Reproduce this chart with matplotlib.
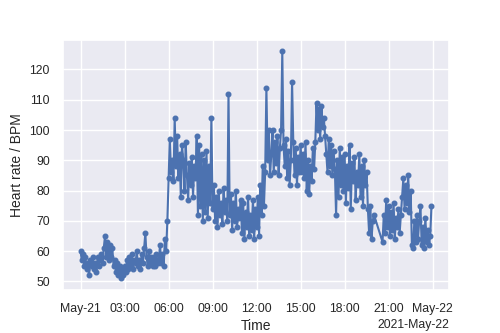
import numpy as np
import pandas as pd
import matplotlib
matplotlib.use("Agg")
import matplotlib.pyplot as plt
import matplotlib.dates as mdates
import seaborn as sns

# --- heart rate readings, 5-minute steps, one list per hour (None = no reading) ---
h00 = [60, 57, 59, 55, 58, 54, 56, 52, 57, 55, 58, 54]
h01 = [56, 53, 58, 55, 57, 59, 56, 61, 65, 58, 63, 57]
h02 = [62, 58, 61, 55, 57, 53, 56, 52, 55, 51, 54, 52]
h03 = [55, 53, 57, 54, 58, 55, 59, 54, 57, 56, 60, 55]
h04 = [57, 54, 59, 56, 61, 66, 58, 55, 60, 56, 58, 55]
h05 = [58, 55, 59, 56, 57, 62, 56, 59, 55, 64, 60, 70]
h06 = [84, 97, 86, 90, 83, 104, 88, 98, 84, 92, 78, 95]
h07 = [90, 80, 96, 85, 77, 89, 82, 91, 78, 88, 84, 98]
h08 = [72, 95, 75, 92, 70, 90, 73, 93, 71, 88, 76, 104]
h09 = [74, 82, 70, 78, 68, 80, 72, 76, 69, 81, 73, 77]
h10 = [70, 112, 72, 79, 67, 76, 70, 80, 68, 74, 71, 77]
h11 = [66, 76, 64, 73, 68, 78, 65, 72, 67, 77, 64, 74]
h12 = [68, 78, 65, 82, 72, 88, 75, 86, 114, 90, 100, 85]
h13 = [92, 100, 86, 96, 89, 98, 85, 94, 100, 126, 95, 88]
h14 = [97, 84, 93, 82, 90, 116, 96, 85, 94, 82, 91, 86]
h15 = [95, 86, 92, 84, 96, 80, 90, 79, 88, 83, 94, 87]
h16 = [96, 109, 100, 107, 97, 108, 101, 104, 98, 92, 86, 97]
h17 = [88, 95, 85, 93, 87, 72, 90, 78, 94, 82, 91, 80]
h18 = [92, 76, 88, 81, 95, 74, 89, 83, 91, 77, 86, 82]
h19 = [92, 78, 88, 75, 90, 82, 86, 74, 66, 75, 64, 70]
h20 = [72, None, None, None, None, None, None, 63, 72, 66, 77, 68]
h21 = [75, 65, 73, 67, 76, 64, 71, 68, 74, 66, 72, 78]
h22 = [84, 74, 82, 76, 85, 73, 80, 62, 61, 70, 63, 72]
h23 = [64, 70, 75, 62, 68, 61, 71, 63, 67, 62, 65, 75]

hours = [h00, h01, h02, h03, h04, h05, h06, h07, h08, h09, h10, h11,
         h12, h13, h14, h15, h16, h17, h18, h19, h20, h21, h22, h23]
bpm = [v for h in hours for v in h]

times = pd.date_range("2021-05-21 00:00", periods=len(bpm), freq="5min")
df = pd.DataFrame({"Time": times, "bpm": bpm}).dropna()

sns.set_theme()
plt.rcParams["font.family"] = ["Liberation Sans", "DejaVu Sans"]

fig, ax = plt.subplots(figsize=(5, 3.33), dpi=100)
fig.subplots_adjust(left=0.126, right=0.898, top=0.88, bottom=0.13)

ax.plot(df["Time"], df["bpm"], color="#4c72b0", marker="o", markersize=3.3, linewidth=1.5)

locator = mdates.HourLocator(byhour=range(0, 24, 3))
ax.xaxis.set_major_locator(locator)
ax.xaxis.set_major_formatter(mdates.ConciseDateFormatter(locator))
ax.tick_params(labelsize=8.8)
ax.xaxis.get_offset_text().set_fontsize(8.8)

ax.set_xlabel("Time", fontsize=10, labelpad=3)
ax.set_ylabel("Heart rate / BPM", fontsize=10)

fig.savefig("out.png", dpi=100)
